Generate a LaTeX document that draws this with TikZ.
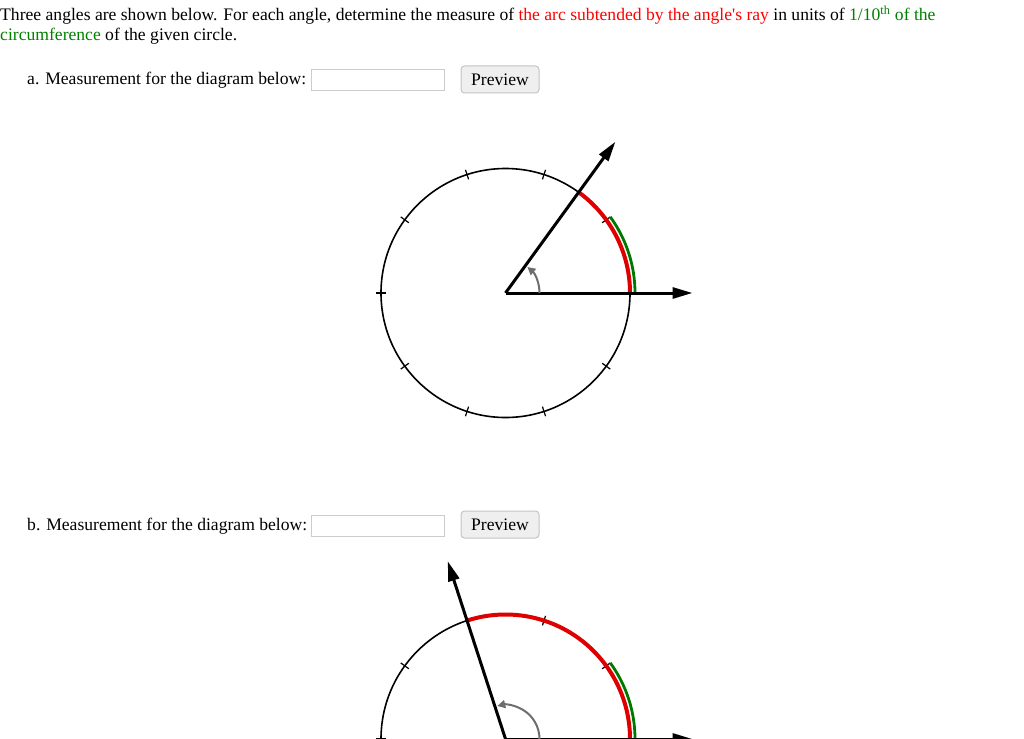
\documentclass[tikz,border=0pt]{standalone}
\usepackage{fontspec}
\setmainfont{Liberation Serif}
\usetikzlibrary{arrows.meta}
\definecolor{txtred}{RGB}{255,0,0}
\definecolor{txtgreen}{RGB}{0,128,0}
\definecolor{arcred}{RGB}{222,0,0}
\definecolor{arcgreen}{RGB}{0,120,0}
\definecolor{boxgray}{RGB}{204,204,204}
\definecolor{btnfill}{RGB}{239,239,239}
\definecolor{btnline}{RGB}{196,196,196}
\definecolor{anglegray}{RGB}{110,110,110}
\begin{document}
\begin{tikzpicture}[x=1pt,y=1pt,
  txt/.style={anchor=base west, inner sep=0, font=\fontsize{17.6}{20}\selectfont},
  inbox/.style={draw=boxgray, line width=1pt, fill=white, minimum width=133pt, minimum height=21pt, inner sep=0},
  btn/.style={draw=btnline, fill=btnfill, rounded corners=3.5pt, line width=1pt, minimum width=78pt, minimum height=27pt, inner sep=0, font=\fontsize{17.6}{20}\selectfont},
  circ/.style={line width=1.6pt},
  ticks/.style={line width=1.2pt},
  ray/.style={line width=3pt, -{Triangle[length=20pt,width=11pt]}},
  redarc/.style={arcred, line width=4pt},
  greenarc/.style={arcgreen, line width=2.8pt},
  angarc/.style={anglegray, line width=2pt, -{Triangle[length=8pt,width=8pt]}},
]
\useasboundingbox (0,0) rectangle (1024,-738);
\clip (0,0) rectangle (1024,-738);

\node[txt] (l1) at (0,-20.5) {Three angles are shown below. For each angle, determine the measure of \textcolor{txtred}{the arc subtended by the angle\textquotesingle s ray} in units of \textcolor{txtgreen}{1/10\textsuperscript{th} of the}};
\node[txt] (l2) at (0,-41) {\textcolor{txtgreen}{circumference} of the given circle.};

\node[txt] (la) at (27,-85) {a. Measurement for the diagram below:};
\node[inbox] (ia) at (377.5,-80.5) {};
\node[btn] (pa) at (500,-79.5) {Preview};

\node[txt] (lb) at (27,-530) {b. Measurement for the diagram below:};
\node[inbox] (ib) at (377.5,-525.5) {};
\node[btn] (pb) at (500,-524.5) {Preview};

\foreach \cy/\ang/\nm in {-293/54/a, -739/108/b} {
  \coordinate (O\nm) at (505.5,\cy);
  \draw[circ] (O\nm) circle[radius=124.5];
  \foreach \t in {0,36,...,324}
    \draw[ticks] ([shift={(\t:119.5)}]O\nm) -- ([shift={(\t:129.5)}]O\nm);
  \draw[redarc] ([shift={(0:124.5)}]O\nm) arc[start angle=0, end angle=\ang, radius=124.5];
  \draw[greenarc] ([shift={(0:129.5)}]O\nm) arc[start angle=0, end angle=36, radius=129.5];
  \coordinate (E\nm) at ([shift={(0:187)}]O\nm);
  \coordinate (R\nm) at ([shift={(\ang:187)}]O\nm);
  \draw[ray] (O\nm) -- (E\nm);
  \draw[ray] (O\nm) -- (R\nm);
  \draw[angarc] ([shift={(0:34)}]O\nm) arc[start angle=0, end angle=\ang-4, radius=34];
}
\end{tikzpicture}
\end{document}
